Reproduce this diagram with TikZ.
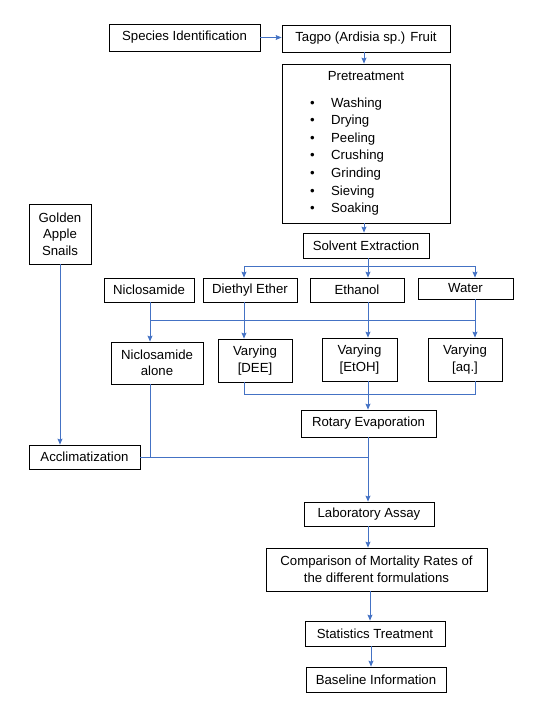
\documentclass[tikz,border=0pt]{standalone}
\usepackage{fontspec}
\setmainfont{Liberation Sans}
\usetikzlibrary{positioning, calc, arrows.meta}
\definecolor{flowblue}{HTML}{4472C4}

\begin{document}
\begin{tikzpicture}[x=1pt, y=-1pt, >={Stealth[length=6pt, width=5pt, inset=1pt]},
	box/.style={draw, line width=0.8pt, align=center, inner sep=2pt,
		font=\fontsize{13.2}{16.5}\selectfont},
	flow/.style={draw=flowblue, line width=0.8pt},
	flowarr/.style={flow, ->, color=flowblue} ]
	\useasboundingbox (0,0) rectangle (536,702);

	% top row
	\node[box, minimum width=151, minimum height=27] (species) at (184.5,37.5) {Species Identification};
	\node[box, minimum width=168, minimum height=27] (tagpo)   at (366,38.5)   {Tagpo (Ardisia sp.) Fruit};

	% pretreatment box with its list
	\node[box, minimum width=168, minimum height=159] (pre) at (366,143.5) {};
	\node[font=\fontsize{13.2}{16}\selectfont] (pretitle) at (366,76) {Pretreatment};
	\node[anchor=west, inner sep=0pt, align=left, font=\fontsize{13.2}{17.6}\selectfont] (prelist) at (310,156.5)
		{\makebox[21pt][l]{\textbullet}Washing\\
		 \makebox[21pt][l]{\textbullet}Drying\\
		 \makebox[21pt][l]{\textbullet}Peeling\\
		 \makebox[21pt][l]{\textbullet}Crushing\\
		 \makebox[21pt][l]{\textbullet}Grinding\\
		 \makebox[21pt][l]{\textbullet}Sieving\\
		 \makebox[21pt][l]{\textbullet}Soaking};

	\node[box, minimum width=126, minimum height=25] (solvent) at (366,245.5) {Solvent Extraction};

	% solvents and control
	\node[box, minimum width=62,  minimum height=60] (snails)  at (60,234)    {Golden\\Apple\\Snails};
	\node[box, minimum width=90,  minimum height=24] (nic)     at (149,290)   {Niclosamide};
	\node[box, minimum width=94,  minimum height=24] (diethyl) at (250,290)   {Diethyl Ether};
	\node[box, minimum width=94,  minimum height=24] (ethanol) at (357,290)   {Ethanol};
	\node[box, minimum width=95,  minimum height=21] (water)   at (465.5,288.5) {Water};

	% formulations
	\node[box, minimum width=92, minimum height=42] (nicalone) at (157,363)     {Niclosamide\\alone};
	\node[box, minimum width=74, minimum height=43] (dee)      at (255,360.5)   {Varying\\{[DEE]}};
	\node[box, minimum width=75, minimum height=43] (etoh)     at (359.5,359.5) {Varying\\{[EtOH]}};
	\node[box, minimum width=74, minimum height=43] (aq)       at (465,359.5)   {Varying\\{[aq.]}};

	\node[box, minimum width=135, minimum height=27] (rotary) at (368.5,423.5) {Rotary Evaporation};
	\node[box, minimum width=111, minimum height=24] (acclim) at (84.5,457)    {Acclimatization};

	% bottom chain
	\node[box, minimum width=130, minimum height=24] (assay)    at (369,514)     {Laboratory Assay};
	\node[box, minimum width=221, minimum height=43] (compare)  at (376.5,569.5) {Comparison of Mortality Rates of\\the different formulations};
	\node[box, minimum width=140, minimum height=25] (stats)    at (375,633.5)   {Statistics Treatment};
	\node[box, minimum width=140, minimum height=25] (baseline) at (376,679.5)   {Baseline Information};

	% columns and junction levels
	\coordinate (colN) at (150,0);
	\coordinate (colD) at (244,0);
	\coordinate (colE) at (368,0);
	\coordinate (colW) at (475,0);
	\coordinate (split) at (366,266);
	\coordinate (mix)   at (0,320);
	\coordinate (merge) at (0,394);
	\coordinate (join)  at (0,457);

	%Conexoes:
	\draw[flowarr] (species) -- (species.east -| tagpo.west);
	\draw[flowarr] (tagpo.south -| 364,0) -- (pre.north -| 364,0);
	\draw[flowarr] (pre.south -| 364,0) -- (solvent.north -| 364,0);

	\draw[flow] (solvent.south -| colE) -- (split -| colE);
	\draw[flow] (split -| colD) -- (split -| colW);
	\draw[flowarr] (split -| colD) -- (diethyl.north -| colD);
	\draw[flowarr] (split -| colE) -- (ethanol.north -| colE);
	\draw[flowarr] (split -| colW) -- (water.north -| colW);

	\draw[flow] (mix -| colN) -- (mix -| colW);
	\draw[flowarr] (nic.south -| colN) -- (nicalone.north -| colN);
	\draw[flowarr] (diethyl.south -| colD) -- (dee.north -| colD);
	\draw[flowarr] (ethanol.south -| colE) -- (etoh.north -| colE);
	\draw[flowarr] (water.south -| colW) -- (aq.north -| colW);

	\draw[flow] (dee.south -| colD) |- (merge -| colW) -- (aq.south -| colW);
	\draw[flowarr] (etoh.south -| colE) -- (rotary.north -| colE);

	\draw[flowarr] (snails) -- (acclim.north -| snails);
	\draw[flow] (nicalone.south -| colN) -- (join -| colN);
	\draw[flow] (acclim.east) -- (join -| colE);
	\draw[flowarr] (rotary.south -| colE) -- (assay.north -| colE);

	\draw[flowarr] (assay.south -| colE) -- (compare.north -| colE);
	\draw[flowarr] (compare.south -| 370,0) -- (stats.north -| 370,0);
	\draw[flowarr] (stats.south -| 371,0) -- (baseline.north -| 371,0);
\end{tikzpicture}
\end{document}
